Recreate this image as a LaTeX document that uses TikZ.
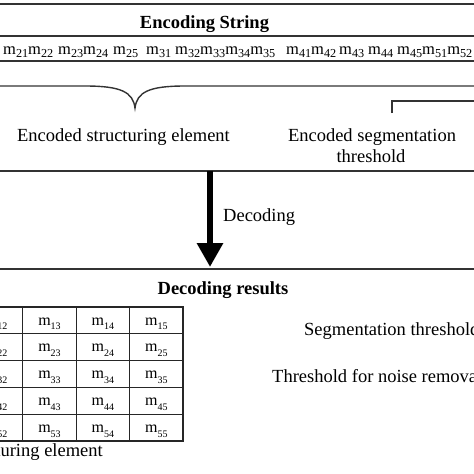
\documentclass[tikz,border=0pt]{standalone}
\usepackage{fontspec}
\setmainfont{Liberation Serif}
\usetikzlibrary{arrows.meta}
\newcommand{\mrow}[1]{m\raisebox{-0.2em}{\fontsize{12.2}{13}\selectfont #1}}
\newcommand{\mcell}[1]{m\raisebox{-0.3em}{\fontsize{10}{11}\selectfont #1}}
\begin{document}
\begin{tikzpicture}[x=1pt,y=-1pt,
  rule/.style={draw=black!80, line width=1.4pt},
  gridline/.style={draw=black!85, line width=1.2pt},
  lbl/.style={font=\fontsize{18.5}{21}\selectfont, inner sep=0pt},
  bold/.style={font=\fontsize{18.5}{21}\selectfont\bfseries, inner sep=0pt, anchor=base},
  rowtxt/.style={font=\fontsize{16.5}{19}\selectfont, inner sep=0pt, anchor=base west},
  celltxt/.style={font=\fontsize{16}{18}\selectfont, inner sep=0pt, anchor=base},
  decarrow/.style={draw=black, line width=6pt, -{Triangle[width=25pt,length=24pt]}}
]
\useasboundingbox (0,0) rectangle (474,474);
\clip (0,0) rectangle (474,474);
\fill[white] (0,0) rectangle (474,474);

% horizontal rules
\foreach \yy in {4,36,61,171,269} {\draw[rule] (-10,\yy) -- (484,\yy);}

% title
\node[bold] (enctitle) at (204.5,28.5) {Encoding String};

% encoded string row
\node[rowtxt] (g1) at (3,54.5) {\mrow{21}\mrow{22}};
\node[rowtxt] (g2) at (58,54.5) {\mrow{23}\mrow{24}};
\node[rowtxt] (g3) at (113,54.5) {\mrow{25}};
\node[rowtxt] (g4) at (146,54.5) {\mrow{31}};
\node[rowtxt] (g5) at (175,54.5) {\mrow{32}\mrow{33}\mrow{34}\mrow{35}};
\node[rowtxt] (g6) at (286,54.5) {\mrow{41}\mrow{42}};
\node[rowtxt] (g7) at (339,54.5) {\mrow{43}};
\node[rowtxt] (g8) at (368,54.5) {\mrow{44}};
\node[rowtxt] (g9) at (397,54.5) {\mrow{45}\mrow{51}\mrow{52}};

% brace
\draw[rule] (-10,86) -- (85,86) .. controls (121,86) and (133,92) .. (135,108)
  .. controls (137,92) and (149,86) .. (185,86) -- (484,86);
% right bracket
\coordinate (brk1) at (392,113);
\coordinate (brk2) at (392,101);
\coordinate (brk3) at (484,101);
\draw[rule] (brk1) -- (brk2) -- (brk3);

% encoded labels
\node[lbl, anchor=base] (encse) at (123.5,141.5) {Encoded structuring element};
\node[lbl, anchor=base] (encst1) at (372,141.5) {Encoded segmentation};
\node[lbl, anchor=base] (encst2) at (371,162.3) {threshold};

% decoding arrow
\coordinate (decA) at (210,171);
\coordinate (decB) at (210,267);
\draw[decarrow] (decA) -- (decB);
\node[lbl, anchor=base west] (declbl) at (223,221.7) {Decoding};

% decoding results
\node[bold] (dectitle) at (223,294) {Decoding results};

% grid
\foreach \r in {1,...,5} {
  \foreach \c in {1,...,5} {
    \pgfmathsetmacro{\xl}{-84+(\c-1)*53.4}
    \pgfmathsetmacro{\yt}{307+(\r-1)*26.8}
    \draw[gridline] (\xl,\yt) rectangle ({\xl+53.4},{\yt+26.8});
  }
}
\foreach \r in {1,...,5} {
  \foreach \c in {2,...,5} {
    \pgfmathsetmacro{\xc}{-84+(\c-1)*53.4+26.7}
    \pgfmathsetmacro{\yb}{307+(\r-1)*26.8+18}
    \node[celltxt] (cell-\r-\c) at (\xc,\yb) {\mcell{\r\c}};
  }
}
\node[lbl, anchor=base east] (selbl) at (103,456.7) {Structuring element};

\node[lbl, anchor=base west] (segth) at (304,335) {Segmentation threshold};
\node[lbl, anchor=base west] (noise) at (272,382.7) {Threshold for noise removal};
\end{tikzpicture}
\end{document}
